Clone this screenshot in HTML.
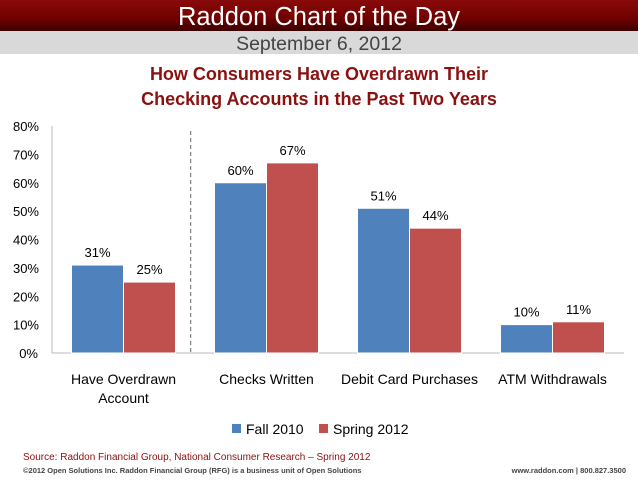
<!DOCTYPE html>
<html><head><meta charset="utf-8"><style>
body{margin:0;width:638px;height:478px;overflow:hidden;background:#fff;font-family:"Liberation Sans",sans-serif;}
</style></head><body>
<svg width="638" height="478" xmlns="http://www.w3.org/2000/svg">
<defs><linearGradient id="hg" x1="0" y1="0" x2="0" y2="1"><stop offset="0" stop-color="#8a0a0a"/><stop offset="0.6" stop-color="#700000"/><stop offset="1" stop-color="#3a0000"/></linearGradient></defs>
<rect x="0" y="0" width="638" height="31" fill="url(#hg)"/>
<text x="319" y="25" text-anchor="middle" font-size="25.5" fill="#fff">Raddon Chart of the Day</text>
<rect x="0" y="31" width="638" height="23" fill="#d9d9d9"/>
<text x="319" y="50" text-anchor="middle" font-size="19.5" fill="#444">September 6, 2012</text>
<text x="319" y="80" text-anchor="middle" font-size="18" font-weight="bold" fill="#8b1010">How Consumers Have Overdrawn Their</text>
<text x="319" y="105" text-anchor="middle" font-size="18" font-weight="bold" fill="#8b1010">Checking Accounts in the Past Two Years</text>
<g id="plot"></g>
<rect x="232" y="424" width="9" height="9" fill="#4f81bd"/>
<text x="246" y="434" font-size="14" fill="#000">Fall 2010</text>
<rect x="319" y="424" width="9" height="9" fill="#c0504d"/>
<text x="333" y="434" font-size="14" fill="#000">Spring 2012</text>
<text x="23" y="460" font-size="10" fill="#8b1010">Source: Raddon Financial Group, National Consumer Research – Spring 2012</text>
<text x="23" y="473" font-size="7.5" font-weight="bold" fill="#444">©2012 Open Solutions Inc.  Raddon Financial Group (RFG) is a business unit of Open Solutions</text>
<text x="626" y="473" text-anchor="end" font-size="7.5" font-weight="bold" fill="#444">www.raddon.com  |  800.827.3500</text>
</svg>
<script>
const categories=["Have Overdrawn|Account","Checks Written","Debit Card Purchases","ATM Withdrawals"];
const fall2010=[31,60,51,10];
const spring2012=[25,67,44,11];
const yTicks=[0,10,20,30,40,50,60,70,80];
const ns="http://www.w3.org/2000/svg";
const g=document.getElementById("plot");
const x0=52,x1=624,yb=353,yt=126,ymax=80;
const y=v=>yb-(v/ymax)*(yb-yt);
const bw=(x1-x0)/categories.length;
const barW=52;
function mk(t,a,txt){const e=document.createElementNS(ns,t);for(const k in a)e.setAttribute(k,a[k]);if(txt!==undefined)e.textContent=txt;g.appendChild(e);return e;}
let ax=mk("line",{x1:x0,y1:yt,x2:x0,y2:yb,stroke:"#bbb"});


let bx=mk("line",{x1:x0,y1:yb,x2:x1,y2:yb,stroke:"#bbb"});


yTicks.forEach(t=>{const e=mk("text",{x:t===0?38:39,y:y(t)+5,"text-anchor":"end","font-size":"13",fill:"#000"},t+"%");

});
const dl=mk("line",{x1:x0+bw*0.97,y1:131,x2:x0+bw*0.97,y2:yb,stroke:"#666","stroke-dasharray":"4,3"});


categories.forEach((c,i)=>{
 const cx=x0+bw*(i+0.5);
 [[fall2010,"#4f81bd",-barW],[spring2012,"#c0504d",0]].forEach(([s,col,off],j)=>{
  const v=s[i];
  const r=mk("rect",{x:cx+off,y:y(v),width:barW,height:yb-y(v),fill:col,stroke:"#fff","stroke-width":"1"});
  
  
  const l=mk("text",{x:cx+off+barW/2,y:y(v)-8,"text-anchor":"middle","font-size":"13",fill:"#000"},v+"%");
  
  
 });
 c.split("|").forEach((ln,k)=>{const t=mk("text",{x:cx,y:384+k*19,"text-anchor":"middle","font-size":"14",fill:"#000"},ln);
 
 });
});
</script>
</body></html>
